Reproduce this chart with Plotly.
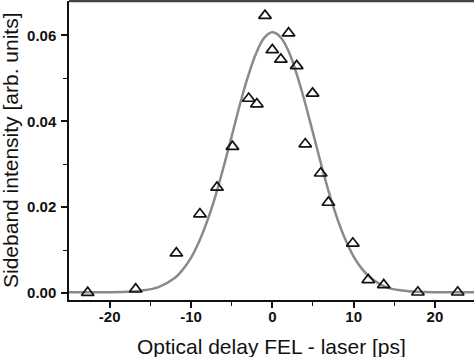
import plotly.graph_objects as go

# Measured data points (open triangles)
delay_ps = [-22.7, -16.8, -11.8, -8.9, -6.8, -4.9, -2.9, -1.9, -0.9, 0.0, 1.05, 2.0,
            3.0, 4.05, 4.95, 5.95, 6.9, 9.9, 11.8, 13.7, 17.9, 22.8]
sideband = [0.0001, 0.0009, 0.0093, 0.0184, 0.0246, 0.0341, 0.0453, 0.0440, 0.0646,
            0.0566, 0.0544, 0.0605, 0.0529, 0.0347, 0.0465, 0.0279, 0.0211, 0.0116,
            0.0031, 0.0019, 0.0002, 0.0002]

# Fit curve
fit_x = [-25, -22, -20, -18, -16, -14, -12, -11, -10, -9, -8, -7, -6, -5, -4, -3, -2, -1,
         0, 1, 2, 3, 4, 5, 6, 7, 8, 9, 10, 11, 12, 14, 16, 18, 20, 22, 25]
fit_y = [0.0002, 0.0002, 0.0002, 0.0003, 0.0006, 0.0014, 0.0035, 0.0055, 0.0082, 0.0120,
         0.0168, 0.0226, 0.0293, 0.0365, 0.0438, 0.0504, 0.0558, 0.0594, 0.0607, 0.0596,
         0.0563, 0.0510, 0.0445, 0.0373, 0.0300, 0.0232, 0.0173, 0.0124, 0.0085, 0.0057,
         0.0037, 0.0014, 0.0006, 0.0003, 0.0002, 0.0002, 0.0002]

x_ticks = [-20, -10, 0, 10, 20]
x_tick_labels = ["-20", "-10", "0", "10", "20"]
y_ticks = [0.00, 0.02, 0.04, 0.06]
y_tick_labels = ["0.00", "0.02", "0.04", "0.06"]
x_title = "Optical delay FEL - laser [ps]"
y_title = "Sideband intensity [arb. units]"

font_family = "Arial, Liberation Sans, Helvetica, sans-serif"
txt = "#111111"

fig = go.Figure()
fig.add_trace(go.Scatter(
    x=fit_x, y=fit_y, mode="lines", line=dict(color="#8a8a8a", width=2.5, shape="spline"),
    showlegend=False, hoverinfo="skip"))
fig.add_trace(go.Scatter(
    x=delay_ps, y=sideband, mode="markers",
    marker=dict(symbol="triangle-up-open", size=11, color="#111111", line=dict(width=1.7, color="#111111")),
    showlegend=False))

fig.update_layout(
    width=474, height=357,
    margin=dict(l=69, r=0, t=1, b=57),
    paper_bgcolor="white", plot_bgcolor="white",
    font=dict(family=font_family, color=txt),
)
fig.update_xaxes(
    range=[-25, 24.8], tickvals=x_ticks, ticktext=x_tick_labels, ticks="outside", ticklen=6, tickwidth=1.5,
    tickcolor="#111", showline=True, linecolor="#111", linewidth=1.5, mirror=False,
    showgrid=False, zeroline=False, ticklabelstandoff=-4,
    tickfont=dict(size=15, family=font_family, color=txt, weight="bold"),
    minor=dict(tickvals=[-15, -5, 5, 15], ticks="outside", ticklen=4, tickwidth=1.2, tickcolor="#111"),
)
fig.update_yaxes(
    range=[-0.0016, 0.068], tickvals=y_ticks, ticktext=y_tick_labels, ticks="outside", ticklen=6,
    tickwidth=1.5, tickcolor="#111", showline=True, linecolor="#111", linewidth=1.5,
    showgrid=False, zeroline=False, ticklabelstandoff=2,
    tickfont=dict(size=15, family=font_family, color=txt, weight="bold"),
    minor=dict(tickvals=[0.01, 0.03, 0.05], ticks="outside", ticklen=4, tickwidth=1.2, tickcolor="#111"),
)
# axis titles as annotations for exact placement
fig.add_annotation(text=x_title, xref="paper", yref="paper", x=0.5, y=0, xanchor="center",
                   yanchor="top", yshift=-33, showarrow=False,
                   font=dict(size=21, family=font_family, color=txt))
fig.add_annotation(text=y_title, xref="paper", yref="paper", x=0, y=0.5, xanchor="right",
                   yanchor="middle", xshift=-45, textangle=-90, showarrow=False,
                   font=dict(size=21, family=font_family, color=txt))
# top frame line
fig.add_shape(type="line", xref="paper", yref="paper", x0=0, x1=1, y0=1, y1=1,
              line=dict(color="#444444", width=2.5))

fig.write_html("out.html", config={"displayModeBar": False},
               post_script="document.body.style.margin='0';document.body.style.overflow='hidden';")
